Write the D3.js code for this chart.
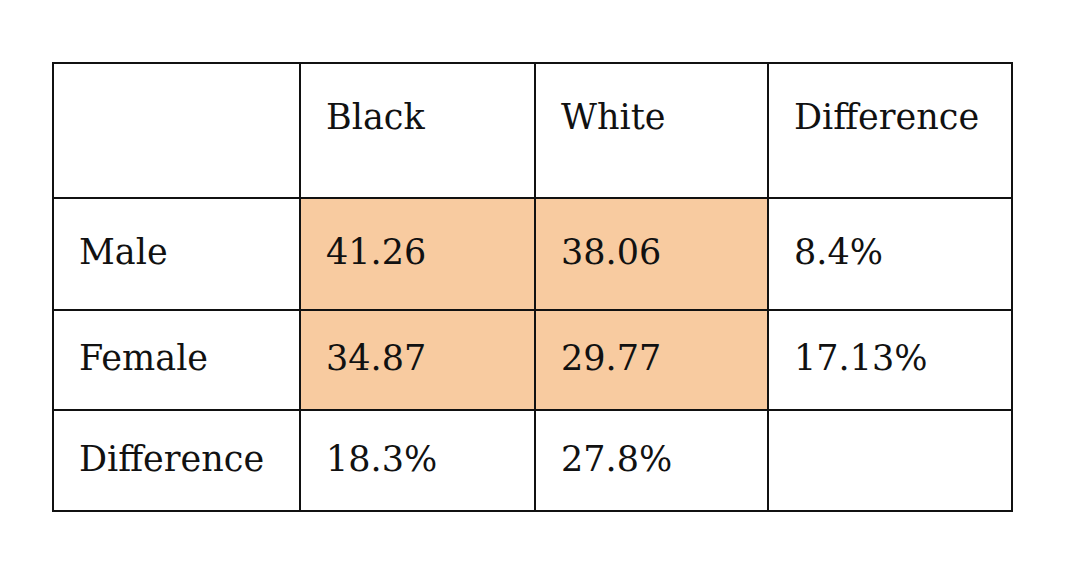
<!DOCTYPE html>
<html lang="en">
<head>
<meta charset="utf-8">
<script src="https://d3js.org/d3.v7.min.js"></script>
<style>
  body { margin: 0; background: #fff; }
  text { font-family: "DejaVu Serif", "Liberation Serif", serif; font-size: 35px; fill: #111; }
</style>
</head>
<body>
<div id="viz"></div>
<script>
var colLabels = ["", "Black", "White", "Difference"];
var rowLabels = ["Male", "Female", "Difference"];
var values = [
  ["41.26", "38.06", "8.4%"],
  ["34.87", "29.77", "17.13%"],
  ["18.3%", "27.8%", ""]
];
var highlighted = [[true, true, false], [true, true, false], [false, false, false]];

var colEdges = [53, 300, 535, 768, 1012];
var rowEdges = [63, 198, 310, 410, 511];
var x = d3.scaleOrdinal().domain(d3.range(5)).range(colEdges);
var y = d3.scaleOrdinal().domain(d3.range(5)).range(rowEdges);

var svg = d3.select("#viz").append("svg").attr("width", 1080).attr("height", 570);

var cells = [];
colLabels.forEach(function(t, c) { cells.push({r: 0, c: c, text: t, fill: false}); });
rowLabels.forEach(function(t, r) {
  cells.push({r: r + 1, c: 0, text: t, fill: false});
  values[r].forEach(function(v, c) {
    cells.push({r: r + 1, c: c + 1, text: v, fill: highlighted[r][c]});
  });
});

var g = svg.selectAll("g.cell").data(cells).enter().append("g").attr("class", "cell");
g.append("rect")
  .attr("x", function(d) { return x(d.c); })
  .attr("y", function(d) { return y(d.r); })
  .attr("width", function(d) { return x(d.c + 1) - x(d.c); })
  .attr("height", function(d) { return y(d.r + 1) - y(d.r); })
  .attr("fill", function(d) { return d.fill ? "#f8cba0" : "#fff"; })
  .attr("stroke", "#111").attr("stroke-width", 2);
// header text sits near the top of its tall row; body text is centred
g.append("text")
  .attr("x", function(d) { return x(d.c) + 26; })
  .attr("y", function(d) { return d.r === 0 ? y(0) + 54 : (y(d.r) + y(d.r + 1)) / 2 - 2; })
  .attr("dy", "0.35em")
  .text(function(d) { return d.text; });
</script>
</body>
</html>
